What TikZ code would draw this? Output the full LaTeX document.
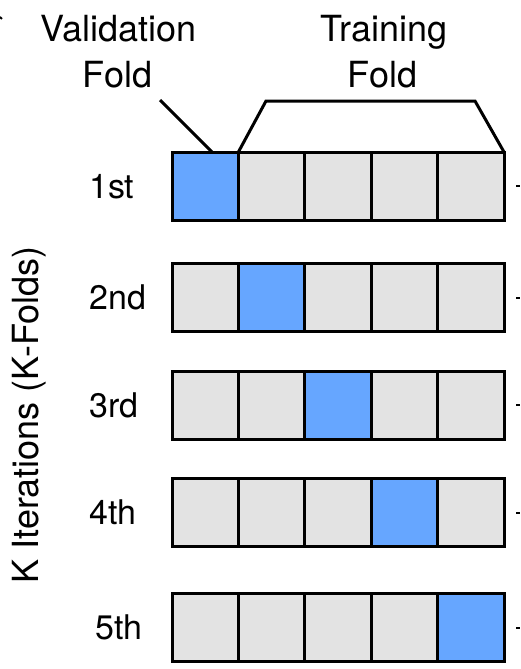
\documentclass[tikz,border=0pt]{standalone}
\usepackage{fontspec}
\setmainfont{TeX Gyre Heros}
\definecolor{valblue}{RGB}{102,166,255}
\definecolor{traingray}{RGB}{227,227,227}
\tikzset{
  cell/.style={draw=black, line width=3pt, minimum width=66.4pt, minimum height=68pt, inner sep=0pt, outer sep=0pt},
  train/.style={cell, fill=traingray},
  val/.style={cell, fill=valblue},
  head/.style={font=\fontsize{36}{44}\selectfont, inner sep=0pt, anchor=base},
  rowlab/.style={font=\fontsize{34}{40}\selectfont, inner sep=0pt, anchor=base west},
  link/.style={line width=3pt, line join=miter},
  stub/.style={line width=2pt}
}
\begin{document}
\begin{tikzpicture}[x=1pt, y=-1pt]
\useasboundingbox (0,0) rectangle (520,669);
% headers
\node[head] (valtxt) at (118.5,42) {Validation};
\node[head] (valfold) at (117.5,88) {Fold};
\node[head] (traintxt) at (384,42) {Training};
\node[head] (trainfold) at (382.5,87) {Fold};
% vertical label
\node[head, rotate=90] (klab) at (38,415) {K Iterations (K-Folds)};
% rows
\foreach \r/\yc/\v in {1/186/1, 2/297.5/2, 3/405/3, 4/512.5/4, 5/627.5/5}{
  \foreach \c in {1,...,5}{
    \pgfmathsetmacro{\xc}{172+33.2+66.4*(\c-1)}
    \ifnum\c=\v
      \node[val] (r\r c\c) at (\xc,\yc) {};
    \else
      \node[train] (r\r c\c) at (\xc,\yc) {};
    \fi
  }
  \coordinate (s\r a) at (516,\yc);
  \coordinate (s\r b) at (520,\yc);
  \draw[stub] (s\r a) -- (s\r b);
}
% row labels
\node[rowlab] (l1) at (89,198) {1st};
\node[rowlab] (l2) at (89,309.5) {2nd};
\node[rowlab] (l3) at (89,417) {3rd};
\node[rowlab] (l4) at (89,524.5) {4th};
\node[rowlab] (l5) at (95,639.5) {5th};
% connectors
\coordinate (vstart) at (160,100);
\coordinate (vend) at (212,152);
\draw[link] (vstart) -- (vend);
\coordinate (bl) at (266,101);
\coordinate (br) at (475,101);
\draw[link] (r1c2.north west) -- (bl) -- (br) -- (r1c5.north east);
% cut-off mark top left
\coordinate (m1) at (0,17);
\coordinate (m2) at (2,19);
\draw[stub] (m1) -- (m2);
\end{tikzpicture}
\end{document}
